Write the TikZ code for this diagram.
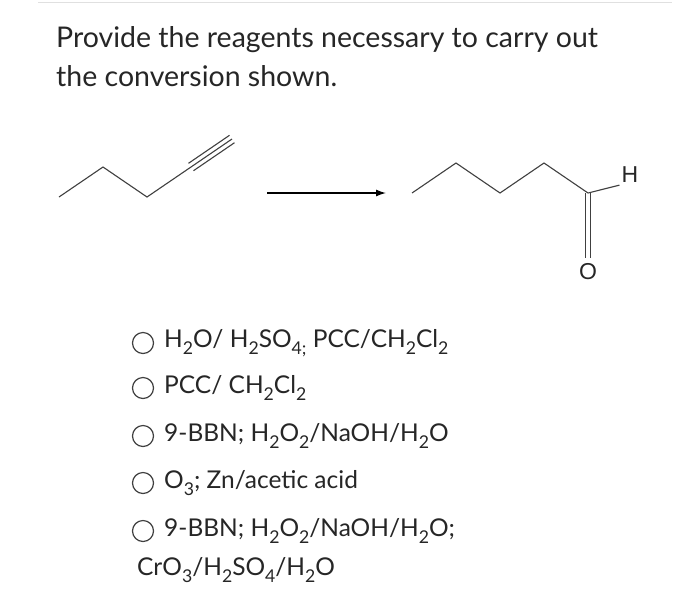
\documentclass[tikz,border=0pt]{standalone}
\usetikzlibrary{calc,arrows.meta}
\usepackage{fontspec}
\setmainfont{Lato}
\newfontfamily\atomfont{Liberation Sans}
\newcommand\sbs[1]{\raisebox{-0.28em}{\scalebox{0.72}{#1}}}
\begin{document}
\begin{tikzpicture}[x=1pt,y=-1pt,
  bond/.style={line width=1.1pt,draw=black!75},
  atom/.style={font=\fontsize{23}{23}\selectfont\atomfont,text=black!85,inner sep=2pt},
  opt/.style={circle,draw=black!75,line width=1.2pt,minimum size=21pt,inner sep=0pt},
  otext/.style={anchor=west,font=\fontsize{24.5}{28}\selectfont,text=black!85,inner sep=0pt}]
\useasboundingbox (0,0) rectangle (700,611);
\fill[white] (0,0) rectangle (700,611);
\draw[black!12,line width=1pt] (38,2) -- (672,2);
\node[anchor=north west,align=left,font=\fontsize{28.5}{39}\selectfont,text=black!85,inner sep=0pt] (q) at (56,26)
 {Provide the reagents necessary to carry out\\the conversion shown.};
% alkyne
\coordinate (a1) at (59,197);
\coordinate (a2) at (103,167);
\coordinate (a3) at (147,197);
\coordinate (a4) at (191,167);
\coordinate (a5) at (232,139);
\draw[bond] (a1)--(a2)--(a3)--(a4)--(a5);
\draw[bond] ($(a4)+(-2.5,-3.7)$)--($(a5)+(-2.5,-3.7)$);
\draw[bond] ($(a4)+(2.5,3.7)$)--($(a5)+(2.5,3.7)$);
% arrow
\coordinate (r1) at (267,193);
\coordinate (r2) at (386,193);
\draw[line width=1.3pt,-{Latex[length=10pt,width=7pt]}] (r1)--(r2);
% aldehyde
\coordinate (b1) at (412,193);
\coordinate (b2) at (456,163);
\coordinate (b3) at (500,193);
\coordinate (b4) at (544,163);
\coordinate (b5) at (588,193);
\node[atom] (H) at (630,175) {H};
\node[atom] (O) at (588,272) {O};
\draw[bond] (b1)--(b2)--(b3)--(b4)--(b5)--(H.south west);
\draw[bond] ($(b5)+(-2.5,0)$)--($(O.north)+(-2.5,-4)$);
\draw[bond] ($(b5)+(2.5,0)$)--($(O.north)+(2.5,-4)$);
% options
\foreach \i/\y in {1/343,2/388,3/436,4/483,5/531}{\node[opt] (c\i) at (143,\y) {};}
\node[otext] (t1) at (164,343) {H\sbs{2}O/ H\sbs{2}SO\sbs{4;} PCC/CH\sbs{2}Cl\sbs{2}};
\node[otext] (t2) at (164,388) {PCC/ CH\sbs{2}Cl\sbs{2}};
\node[otext] (t3) at (164,436) {9-BBN; H\sbs{2}O\sbs{2}/NaOH/H\sbs{2}O};
\node[otext] (t4) at (164,483) {O\sbs{3}; Zn/acetic acid};
\node[otext] (t5) at (164,531) {9-BBN; H\sbs{2}O\sbs{2}/NaOH/H\sbs{2}O;};
\node[otext] (t6) at (137,570) {CrO\sbs{3}/H\sbs{2}SO\sbs{4}/H\sbs{2}O};
\end{tikzpicture}
\end{document}
